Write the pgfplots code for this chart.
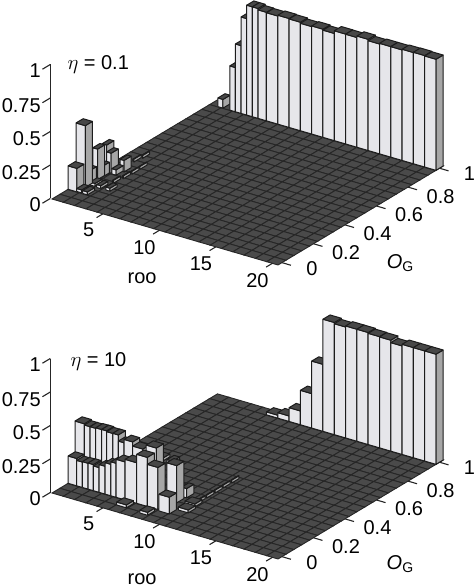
\documentclass[border=0pt]{standalone}
\usepackage{fontspec}
\setmainfont{Liberation Sans}
\usepackage{pgfplots}
\usepackage{pgfplotstable}
\pgfplotsset{compat=1.18}
\definecolor{barT}{HTML}{474747}
\definecolor{barL}{HTML}{E6E6EA}
\definecolor{barD}{HTML}{A6A6A6}
\definecolor{edgeC}{HTML}{1C1C1C}
\definecolor{flr}{HTML}{4A4A4A}
\definecolor{flrline}{HTML}{262626}
\definecolor{tickC}{HTML}{262626}

\pgfplotstableread{
x0 x1 y h
1.2 1.65 1 0.065
2.25 2.75 1 0.33
2.75 3.25 1 0.506
3.25 3.75 1 0.72
3.75 4.25 1 0.82
4.25 4.75 1 0.82
4.75 5.5 1 0.81
5.5 6.5 1 0.807
6.5 7.5 1 0.813
7.5 8.5 1 0.81
8.5 9.5 1 0.802
9.5 10.5 1 0.807
10.5 11.5 1 0.80
11.5 12.5 1 0.82
12.5 13.5 1 0.819
13.5 14.5 1 0.83
14.5 15.5 1 0.82
15.5 16.5 1 0.825
16.5 17.5 1 0.825
17.5 18.5 1 0.83
18.5 19.5 1 0.832
19.5 20.5 1 0.829
1.804 1.854 0.4755 0.022
1.65 1.7 0.4315 0.022
2.735 2.785 0.3915 0.022
2.74 2.79 0.3395 0.022
1.745 2.1 0.34 0.086
1.0 1.4 0.28 0.226
1.07 1.47 0.3035 0.15
1.57 1.95 0.30 0.04
2.68 2.73 0.29 0.022
0.97 1.32 0.2575 0.08
2.54 2.59 0.2365 0.022
0.875 1.29 0.23 0.228
0.875 1.26 0.18 0.1
1.37 1.81 0.1765 0.022
2.017 2.37 0.1725 0.022
2.82 3.17 0.1735 0.022
0.5 1.32 0.15 0.46
0.5 1.27 0.1 0.175
1.225 1.665 0.1025 0.022
1.78 2.2 0.1005 0.022
}\tabTop

\pgfplotstableread{
x0 x1 y h
5.5 6.5 1 0.022
6.5 7.5 1 0.041
7.5 8.5 1 0.103
8.5 9.5 1 0.257
9.5 10.5 1 0.50
10.5 11.5 1 0.837
11.5 12.5 1 0.828
12.5 13.5 1 0.836
13.5 14.5 1 0.836
14.5 15.5 1 0.83
15.5 16.5 1 0.828
16.5 17.5 1 0.81
17.5 18.5 1 0.822
18.5 19.5 1 0.822
19.5 20.5 1 0.822
3.42 3.92 0.4545 0.022
4.31 4.81 0.4535 0.022
10.15 10.2 0.4425 0.022
10.13 10.18 0.3885 0.022
10.15 10.2 0.3365 0.022
10.15 10.2 0.2835 0.022
8.56 9.0 0.2425 0.07
10.13 10.18 0.2295 0.022
9.5 10.38 0.1955 0.022
8.02 8.9 0.1865 0.278
0.5 1.32 0.1435 0.434
1.32 1.83 0.1435 0.425
1.83 2.33 0.1435 0.425
2.33 2.86 0.1435 0.429
2.86 3.3 0.1435 0.43
3.3 3.84 0.1435 0.424
3.84 4.33 0.1435 0.425
4.33 4.84 0.1435 0.379
4.84 5.6 0.1435 0.404
5.6 6.5 0.1435 0.373
6.8 7.7 0.1435 0.41
9.7 10.58 0.1392 0.022
0.5 1.26 0.1 0.204
1.26 1.76 0.1 0.19
1.76 2.26 0.1 0.193
2.26 2.73 0.1 0.195
2.73 3.24 0.1 0.185
3.24 3.77 0.1 0.208
3.77 4.27 0.1 0.235
4.27 4.75 0.1 0.254
4.75 5.54 0.1 0.284
5.54 6.57 0.1 0.303
6.57 7.5 0.1 0.366
7.5 8.45 0.1 0.314
8.65 9.56 0.092 0.125
5.54 6.4 0.0465 0.022
7.72 8.4 0.0375 0.022
}\tabBot

\pgfplotstableread{
xa ya za xb yb zb
5 -0.025 0 5 -0.065 0
10 -0.025 0 10 -0.065 0
15 -0.025 0 15 -0.065 0
20 -0.025 0 20 -0.065 0
20.5 0 0 21.3 0 0
20.5 0.2 0 21.3 0.2 0
20.5 0.4 0 21.3 0.4 0
20.5 0.6 0 21.3 0.6 0
20.5 0.8 0 21.3 0.8 0
20.5 1 0 21.3 1 0
0.35 -0.025 0 0.35 -0.075 0
0.35 -0.025 0.25 0.35 -0.075 0.25
0.35 -0.025 0.5 0.35 -0.075 0.5
0.35 -0.025 0.75 0.35 -0.075 0.75
0.35 -0.025 1 0.35 -0.075 1
0.35 -0.025 0 0.35 -0.025 1
}\tabTicks

% floor mesh: one flat sheet at height 0, 20 x 21 cells
\def\floorpts{}
\pgfplotsforeachungrouped \yy in {-0.025,0.025,0.075,0.125,0.175,0.225,0.275,0.325,0.375,0.425,0.475,0.525,0.575,0.625,0.675,0.725,0.775,0.825,0.875,0.925,0.975,1.025}{%
  \pgfplotsforeachungrouped \xx in {0.5,1.5,2.5,3.5,4.5,5.5,6.5,7.5,8.5,9.5,10.5,11.5,12.5,13.5,14.5,15.5,16.5,17.5,18.5,19.5,20.5}{%
    \edef\floorpts{\floorpts (\xx,\yy,0)}%
  }%
}

\newcommand\drawfloor{%
  \edef\cmd{\noexpand\addplot3[surf,shader=faceted,faceted color=flrline,line width=0.9pt,mesh/rows=22,mesh/cols=21,forget plot] coordinates {\floorpts};}\cmd
}
\newcommand\drawbars[1]{%
  \pgfplotstablegetrowsof{#1}\pgfmathtruncatemacro\nrows{\pgfplotsretval-1}%
  \pgfplotsforeachungrouped \i in {0,...,\nrows}{%
    \pgfplotstablegetelem{\i}{x0}\of{#1}\let\xa\pgfplotsretval
    \pgfplotstablegetelem{\i}{x1}\of{#1}\let\xb\pgfplotsretval
    \pgfplotstablegetelem{\i}{y}\of{#1}\let\yc\pgfplotsretval
    \pgfplotstablegetelem{\i}{h}\of{#1}\let\hh\pgfplotsretval
    \pgfmathsetmacro\ya{\yc-0.0225}%
    \pgfmathsetmacro\yb{\yc+0.0225}%
    \edef\cmd{%
      \noexpand\addplot3[barface,fill=barL] coordinates {(\xa,\ya,0)(\xb,\ya,0)(\xb,\ya,\hh)(\xa,\ya,\hh)(\xa,\ya,0)};
      \noexpand\addplot3[barface,fill=barD] coordinates {(\xb,\ya,0)(\xb,\yb,0)(\xb,\yb,\hh)(\xb,\ya,\hh)(\xb,\ya,0)};
      \noexpand\addplot3[barface,fill=barT] coordinates {(\xa,\ya,\hh)(\xb,\ya,\hh)(\xb,\yb,\hh)(\xa,\yb,\hh)(\xa,\ya,\hh)};
    }\cmd
  }%
}
% short tick strokes and the height axis, in axis coordinates
\newcommand\drawstrokes{%
  \pgfplotstablegetrowsof{\tabTicks}\pgfmathtruncatemacro\nrows{\pgfplotsretval-1}%
  \pgfplotsforeachungrouped \i in {0,...,\nrows}{%
    \pgfplotstablegetelem{\i}{xa}\of{\tabTicks}\let\pa\pgfplotsretval
    \pgfplotstablegetelem{\i}{ya}\of{\tabTicks}\let\pb\pgfplotsretval
    \pgfplotstablegetelem{\i}{za}\of{\tabTicks}\let\pc\pgfplotsretval
    \pgfplotstablegetelem{\i}{xb}\of{\tabTicks}\let\qa\pgfplotsretval
    \pgfplotstablegetelem{\i}{yb}\of{\tabTicks}\let\qb\pgfplotsretval
    \pgfplotstablegetelem{\i}{zb}\of{\tabTicks}\let\qc\pgfplotsretval
    \edef\cmd{\noexpand\addplot3[draw=tickC,line width=1.1pt,mark=none,solid,forget plot] coordinates {(\pa,\pb,\pc)(\qa,\qb,\qc)};}\cmd
  }%
}

\pgfplotsset{
  barface/.style={draw=edgeC,line width=1pt,line join=round,mark=none,solid,forget plot},
  panel/.style={
    x={(11.3pt,-3.3pt)},y={(157.6pt,94.4pt)},z={(0pt,134pt)},
    xmin=0.5,xmax=20.5,ymin=-0.025,ymax=1.025,zmin=0,zmax=1,
    clip=false,
    axis x line*=left,axis y line*=left,axis z line*=left,
    axis line style={draw=none},
    xtick={5,10,15,20},
    ytick={0,0.2,0.4,0.6,0.8,1},yticklabels={0,0.2,0.4,0.6,0.8,1},
    ztick={0,0.25,0.5,0.75,1},zticklabels={0,0.25,0.5,0.75,1},
    tick align=outside,major tick length=9pt,
    tick style={draw=none},
    minor tick num=0,
    tick label style={font=\fontsize{20}{22}\selectfont},
    yticklabel style={xshift=13pt,yshift=8pt},
    label style={font=\fontsize{20}{22}\selectfont},
    /pgf/number format/assume math mode=true,
    colormap={fl}{color(0cm)=(flr) color(1cm)=(flr)},
    point meta min=0,point meta max=1,
  },
}

\begin{document}
\begin{tikzpicture}[x=1pt,y=1pt]
\useasboundingbox (0,0) rectangle (474,588);
\begin{axis}[panel,anchor=south west,at={(52pt,323pt)},
  xlabel={roo},ylabel={\textit{O}\raisebox{-3pt}{\fontsize{14}{14}\selectfont G}},
  xlabel style={at={(axis cs:13.7,-0.4,0)},anchor=center,rotate=0},
  ylabel style={at={(axis cs:27.56,0.243,0)},anchor=center,rotate=0}]
\drawfloor
\drawbars{\tabTop}
\drawstrokes
\end{axis}
\begin{axis}[panel,anchor=south west,at={(52pt,29pt)},
  xlabel={roo},ylabel={\textit{O}\raisebox{-3pt}{\fontsize{14}{14}\selectfont G}},
  xlabel style={at={(axis cs:14.4,-0.45,0)},anchor=center,rotate=0},
  ylabel style={at={(axis cs:28.25,0.193,0)},anchor=center,rotate=0}]
\drawfloor
\drawbars{\tabBot}
\drawstrokes
\end{axis}
\node[anchor=west,font=\fontsize{20}{22}\selectfont] at (64,523) {$\eta$ = 0.1};
\node[anchor=west,font=\fontsize{20}{22}\selectfont] at (67,226) {$\eta$ = 10};
\end{tikzpicture}
\end{document}
